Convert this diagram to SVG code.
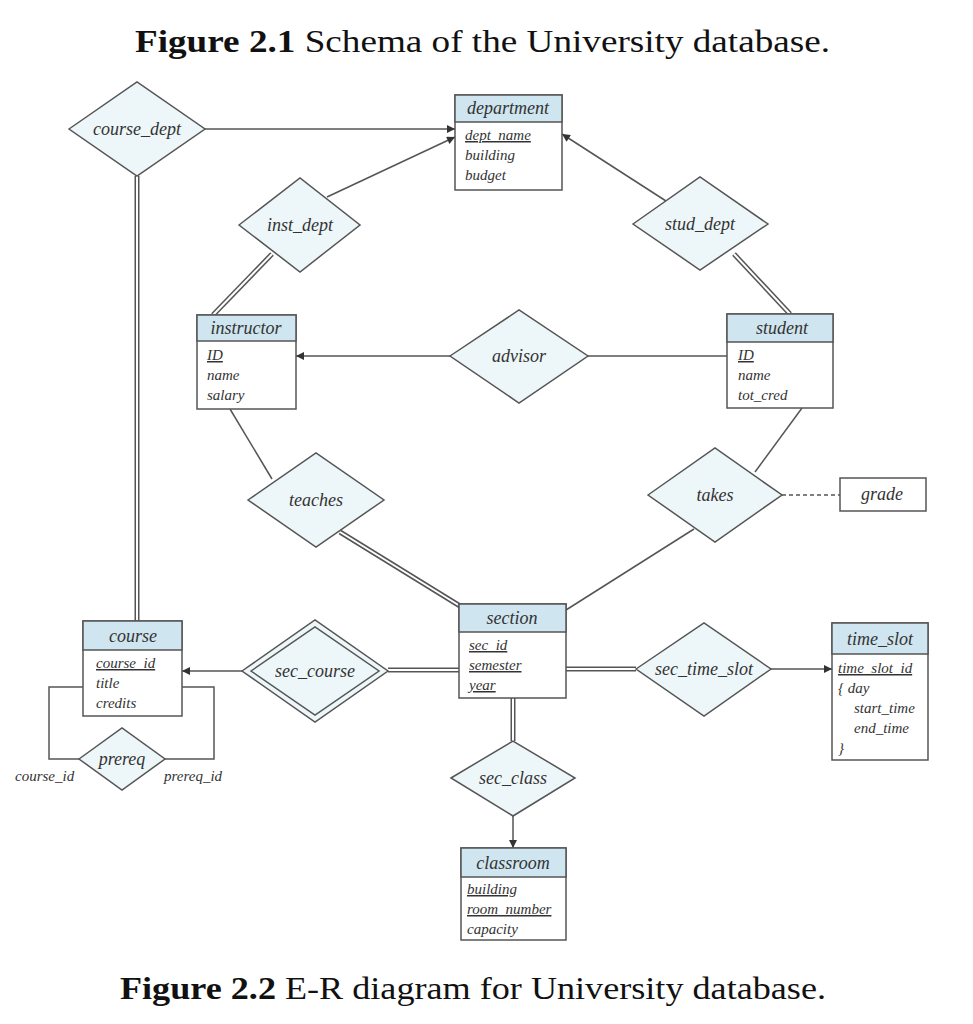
<svg xmlns="http://www.w3.org/2000/svg" width="973" height="1024" viewBox="0 0 973 1024">
<defs>
<marker id="ar" viewBox="0 0 10 10" refX="10" refY="5" markerWidth="10" markerHeight="8" orient="auto" markerUnits="userSpaceOnUse"><path d="M0,0 L10,5 L0,10 z" fill="#333"/></marker>
<style>
.t{font-family:"Liberation Serif",serif;font-size:32px;fill:#111}
.ent{fill:#fff;stroke:#555;stroke-width:1.5}
.hd{fill:#cfe5ef;stroke:#555;stroke-width:1.5}
.dm{fill:#edf6f9;stroke:#555;stroke-width:1.5}
.h{font-family:"Liberation Serif",serif;font-style:italic;font-size:18px;fill:#333;text-anchor:middle}
.a{font-family:"Liberation Serif",serif;font-style:italic;font-size:15px;fill:#333}
.u{text-decoration:underline}
.ln{stroke:#555;stroke-width:1.5;fill:none}
.d1{stroke:#555;stroke-width:5;fill:none}
.d2{stroke:#fff;stroke-width:2;fill:none}
</style>
</defs>
<rect width="973" height="1024" fill="#fff"/>
<text class="t" x="135" y="52" textLength="695" lengthAdjust="spacingAndGlyphs"><tspan font-weight="bold">Figure 2.1</tspan> Schema of the University database.</text>
<text class="t" x="120" y="999" textLength="706" lengthAdjust="spacingAndGlyphs"><tspan font-weight="bold">Figure 2.2</tspan> E-R diagram for University database.</text>

<g id="connectors">
<line class="ln" x1="205" y1="129" x2="455" y2="129" marker-end="url(#ar)"/>
<line class="ln" x1="327" y1="197" x2="455" y2="137" marker-end="url(#ar)"/>
<line class="ln" x1="666" y1="201" x2="562" y2="134" marker-end="url(#ar)"/>
<line class="ln" x1="450" y1="356" x2="296" y2="356" marker-end="url(#ar)"/>
<line class="ln" x1="588" y1="356" x2="727" y2="356"/>
<line class="ln" x1="230" y1="409" x2="272" y2="479"/>
<line class="ln" x1="802" y1="408" x2="755" y2="472"/>
<line class="ln" x1="694" y1="529" x2="566" y2="610"/>
<line class="ln" x1="782" y1="495" x2="840" y2="495" stroke-dasharray="4,3"/>
<line class="ln" x1="242" y1="671" x2="182" y2="671" marker-end="url(#ar)"/>
<line class="ln" x1="771" y1="669" x2="832" y2="669" marker-end="url(#ar)"/>
<line class="ln" x1="513" y1="816" x2="513" y2="848" marker-end="url(#ar)"/>
<polyline class="ln" points="83,687 49,687 49,759 79,759"/>
<polyline class="ln" points="182,687 214,687 214,759 165,759"/>
<g class="d1"><line x1="137" y1="176" x2="137" y2="621"/><line x1="272" y1="254" x2="213" y2="315"/><line x1="734" y1="254" x2="790" y2="314"/><line x1="340" y1="532" x2="460" y2="606"/><line x1="388" y1="670" x2="459" y2="670"/><line x1="566" y1="669" x2="636" y2="669"/><line x1="513" y1="698" x2="513" y2="741"/></g>
<g class="d2"><line x1="137" y1="176" x2="137" y2="621"/><line x1="272" y1="254" x2="213" y2="315"/><line x1="734" y1="254" x2="790" y2="314"/><line x1="340" y1="532" x2="460" y2="606"/><line x1="388" y1="670" x2="459" y2="670"/><line x1="566" y1="669" x2="636" y2="669"/><line x1="513" y1="698" x2="513" y2="741"/></g>
</g>

<g id="course_dept"><polygon class="dm" points="69,129 137,82 205,129 137,176"/><text class="h" x="137" y="135">course_dept</text></g>
<g id="inst_dept"><polygon class="dm" points="239,225 300,178 360,225 300,272"/><text class="h" x="300" y="231">inst_dept</text></g>
<g id="stud_dept"><polygon class="dm" points="633,224 700,177 768,224 700,270"/><text class="h" x="700" y="230">stud_dept</text></g>
<g id="advisor"><polygon class="dm" points="450,356 519,310 588,356 519,403"/><text class="h" x="519" y="362">advisor</text></g>
<g id="teaches"><polygon class="dm" points="248,500 316,453 384,500 316,547"/><text class="h" x="316" y="506">teaches</text></g>
<g id="takes"><polygon class="dm" points="648,495 715,448 782,495 715,542"/><text class="h" x="715" y="501">takes</text></g>
<g id="sec_course"><polygon class="dm" points="242,671 315,620 388,671 315,722"/><polygon class="dm" points="251,671 315,627 379,671 315,715"/><text class="h" x="315" y="677">sec_course</text></g>
<g id="sec_time_slot"><polygon class="dm" points="636,669 704,623 771,669 704,716"/><text class="h" x="704" y="675">sec_time_slot</text></g>
<g id="sec_class"><polygon class="dm" points="451,778 513,741 575,778 513,816"/><text class="h" x="513" y="784">sec_class</text></g>
<g id="prereq"><polygon class="dm" points="79,759 122,728 165,759 122,790"/><text class="h" x="122" y="765">prereq</text></g>
<text class="a" x="15" y="781">course_id</text>
<text class="a" x="164" y="781">prereq_id</text>

<g id="department"><rect class="ent" x="455" y="95" width="107" height="95"/><rect class="hd" x="455" y="95" width="107" height="27"/><text class="h" x="508" y="114">department</text><text class="a u" x="465" y="140">dept_name</text><text class="a" x="465" y="160">building</text><text class="a" x="465" y="180">budget</text></g>
<g id="instructor"><rect class="ent" x="197" y="315" width="99" height="94"/><rect class="hd" x="197" y="315" width="99" height="26"/><text class="h" x="246" y="334">instructor</text><text class="a u" x="207" y="360">ID</text><text class="a" x="207" y="380">name</text><text class="a" x="207" y="400">salary</text></g>
<g id="student"><rect class="ent" x="727" y="314" width="106" height="94"/><rect class="hd" x="727" y="314" width="106" height="28"/><text class="h" x="782" y="334">student</text><text class="a u" x="738" y="360">ID</text><text class="a" x="738" y="380">name</text><text class="a" x="738" y="400">tot_cred</text></g>
<g id="grade"><rect class="ent" x="840" y="478" width="86" height="33"/><text class="h" x="882" y="500">grade</text></g>
<g id="section"><rect class="ent" x="459" y="604" width="107" height="94"/><rect class="hd" x="459" y="604" width="107" height="28"/><text class="h" x="512" y="624">section</text><text class="a u" x="469" y="650">sec_id</text><text class="a u" x="469" y="670">semester</text><text class="a u" x="469" y="690">year</text></g>
<g id="course"><rect class="ent" x="83" y="621" width="99" height="95"/><rect class="hd" x="83" y="621" width="99" height="29"/><text class="h" x="133" y="642">course</text><text class="a u" x="96" y="668">course_id</text><text class="a" x="96" y="688">title</text><text class="a" x="96" y="708">credits</text></g>
<g id="time_slot"><rect class="ent" x="832" y="623" width="96" height="137"/><rect class="hd" x="832" y="623" width="96" height="31"/><text class="h" x="880" y="645">time_slot</text><text class="a u" x="838" y="673">time_slot_id</text><text class="a" x="838" y="693">{  day</text><text class="a" x="854" y="713">start_time</text><text class="a" x="854" y="733">end_time</text><text class="a" x="838" y="753">}</text></g>
<g id="classroom"><rect class="ent" x="461" y="848" width="105" height="92"/><rect class="hd" x="461" y="848" width="105" height="29"/><text class="h" x="513" y="869">classroom</text><text class="a u" x="467" y="894">building</text><text class="a u" x="467" y="914">room_number</text><text class="a" x="467" y="934">capacity</text></g>
</svg>
